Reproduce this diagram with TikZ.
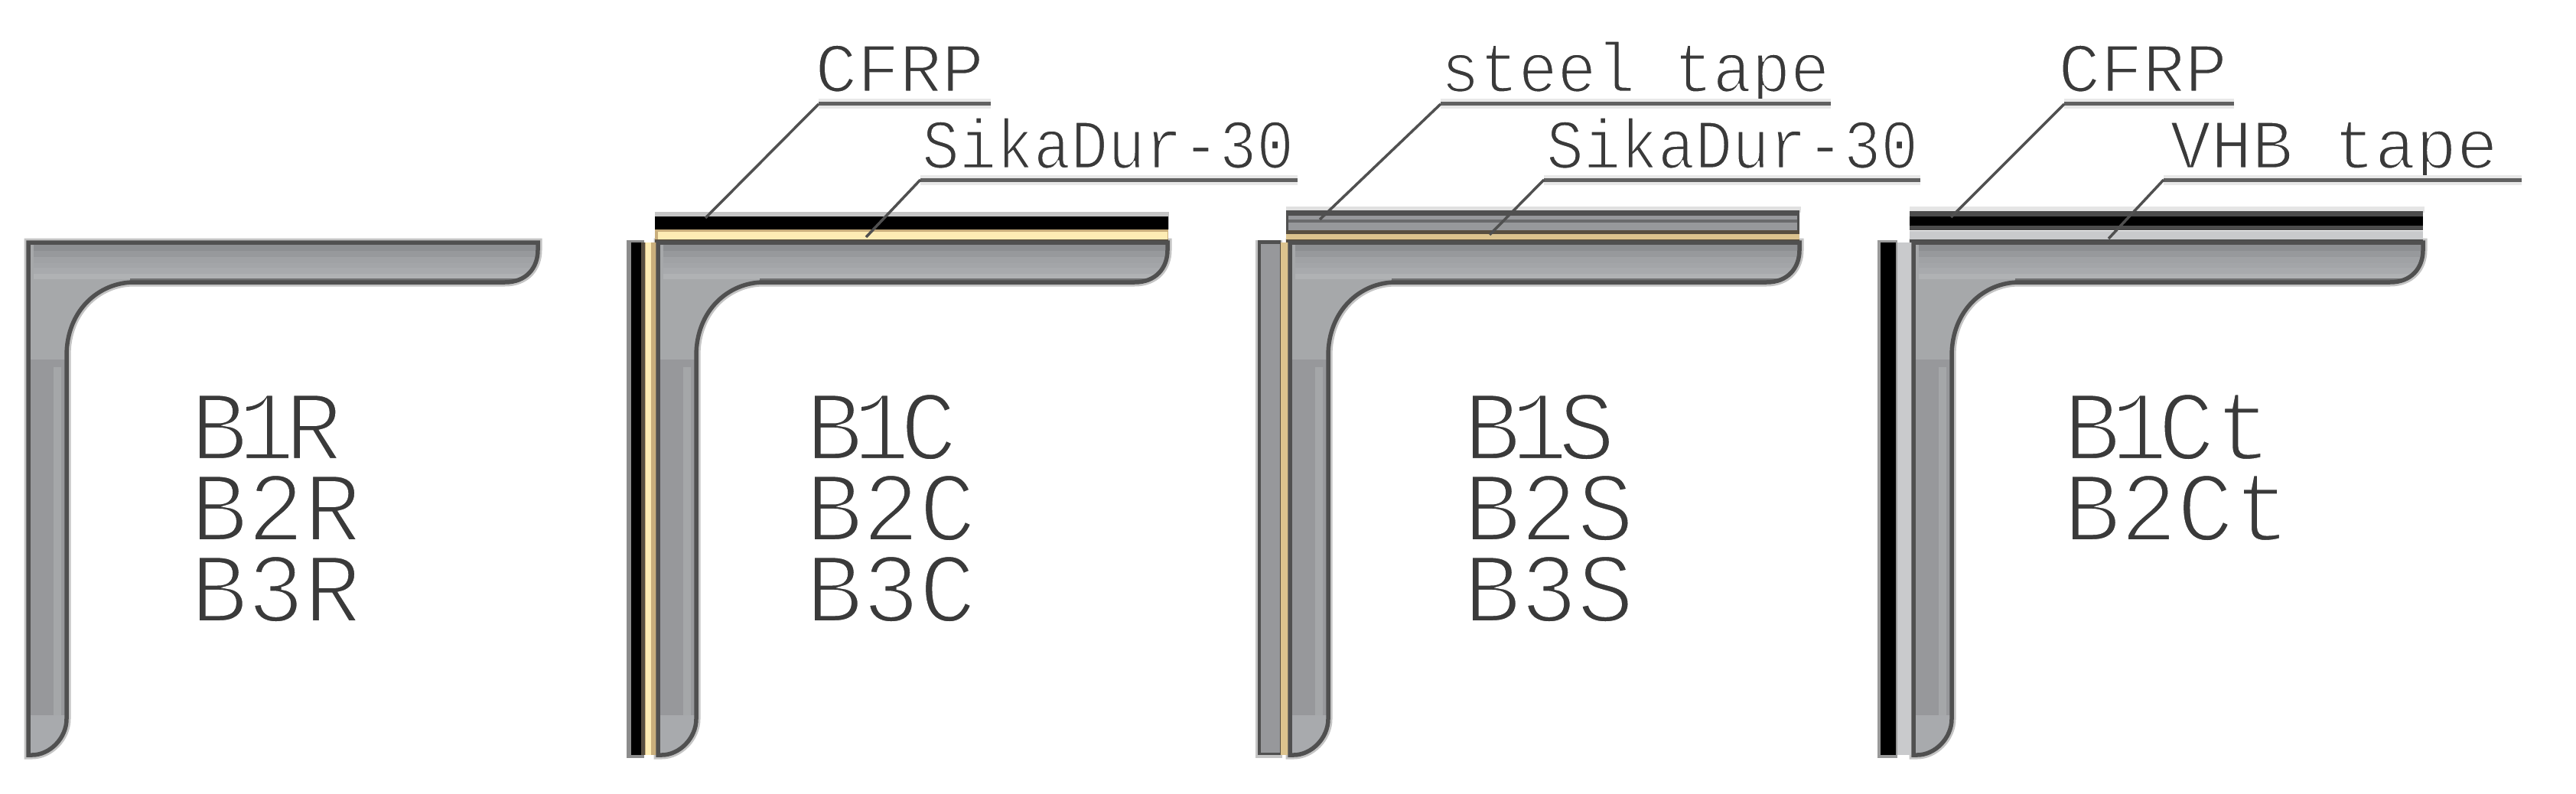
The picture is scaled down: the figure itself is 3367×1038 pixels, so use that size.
\documentclass[tikz,border=0pt]{standalone}
\usepackage{fontspec}
\setmainfont{Liberation Mono}
\definecolor{inkd}{HTML}{505050}
\definecolor{halo}{HTML}{C4C4C4}
\definecolor{band}{HTML}{707172}
\definecolor{cream}{HTML}{FDECB4}
\definecolor{tan1}{HTML}{C9AE7C}
\definecolor{tan2}{HTML}{DCC38E}
\definecolor{brownd}{HTML}{574E40}
\definecolor{webg}{HTML}{97989B}
\definecolor{filg}{HTML}{A6A8AA}
\definecolor{lightv}{HTML}{C9CACC}
\definecolor{txt}{HTML}{3A3A3A}
\definecolor{A9AA}{HTML}{A8AAAD}
\def\profpath{(37,317) -- (703,317) -- (703,327) .. controls (703,350) and (688,369) .. (660,369) -- (175,369) .. controls (130,369) and (87,405) .. (87,465) -- (87,940) .. controls (87,965) and (65,987) .. (42,987) -- (37,987) -- cycle}
\newcommand{\thinbig}[1]{\scalebox{.95}[1]{\special{pdf:code q 2 Tr 1 1 1 RG 4 w}#1\special{pdf:code Q}}}
\newcommand{\thinsm}[2]{\scalebox{#1}[1]{\special{pdf:code q 2 Tr 1 1 1 RG 2.5 w}#2\special{pdf:code Q}}}
\tikzset{
  big/.style={inner sep=0pt,anchor=base west,text=txt,font=\fontsize{130}{130}\selectfont},
  small/.style={inner sep=0pt,anchor=base west,text=txt,font=\fontsize{92}{92}\selectfont},
  uhalo/.style={draw=black!9,line width=13pt},
  uline/.style={draw=black!62,line width=5pt},
  leader/.style={draw=inkd,line width=3.5pt},
}
\newcommand{\profhalo}{\draw[halo,line width=11pt] \profpath;}
\newcommand{\proftile}{%
  \begin{scope}
    \clip \profpath;
    \fill[filg] (30,310) rectangle (720,480);
    \fill[webg] (30,470) rectangle (100,935);
    \fill[A9AA] (30,935) rectangle (100,995);
    \fill[white!14!webg] (70,480) rectangle (80,935);
    \foreach \ya/\yb/\cc in {320/328/8D8F92,328/336/97999C,336/344/A0A2A5,344/350/A3A5A8,350/358/A8AAAD,358/365/B0B2B4}{
      \definecolor{bb}{HTML}{\cc}
      \fill[bb] (44,\ya) rectangle (720,\yb);
    }
    \fill[band] (170,364) rectangle (720,372);
  \end{scope}
  \draw[inkd,line width=5.5pt] \profpath;
}
\newcommand{\vkern}{\kern-.1em }
\begin{document}
\begin{tikzpicture}[x=1pt,y=-1pt]
\useasboundingbox (0,0) rectangle (3367,1038);
\fill[white] (0,0) rectangle (3367,1038);

% column 1
\profhalo
\proftile
\node[big] (t1a) at (249,601) {\thinbig{B\vkern 1\vkern R}};
\node[big] (t1b) at (249,707) {\thinbig{B2R}};
\node[big] (t1c) at (249,813) {\thinbig{B3R}};

% column 2
\begin{scope}[shift={(823,0)}]
  \profhalo
  \fill[black!45] (-4,314) rectangle (19,991);
  \fill[black] (2,317) rectangle (15,987);
  \fill[brownd] (15,317) rectangle (20,987);
  \fill[tan1] (20,317) rectangle (37,987);
  \fill[cream] (21,317) rectangle (28,987);
  \fill[halo] (33,277) rectangle (705,300);
  \fill[black] (33,283) rectangle (704,300);
  \fill[tan1] (33,300) rectangle (704,317);
  \fill[cream] (37,303) rectangle (703,313);
  \fill[brownd] (33,313) rectangle (704,317);
  \proftile
\end{scope}
\node[big] (t2a) at (1053,601) {\thinbig{B\vkern 1\vkern C}};
\node[big] (t2b) at (1053,707) {\thinbig{B2C}};
\node[big] (t2c) at (1053,813) {\thinbig{B3C}};

% column 3
\begin{scope}[shift={(1649,0)}]
  \profhalo
  \fill[halo] (-8,314) rectangle (27,991);
  \fill[inkd] (-5,314) rectangle (25,987);
  \fill[webg] (-1,319) rectangle (24,984);
  \fill[brownd] (24,317) rectangle (26,987);
  \fill[tan2] (25,317) rectangle (37,987);
  \fill[black!12] (32,270) rectangle (705,278);
  \fill[inkd] (32,275) rectangle (703,306);
  \fill[webg] (35,282) rectangle (700,301);
  \fill[black!30!webg] (35,287) rectangle (700,291);
  \fill[brownd] (32,301) rectangle (703,317);
  \fill[tan2] (32,306) rectangle (703,313);
  \proftile
\end{scope}
\node[big] (t3a) at (1913,601) {\thinbig{B\vkern 1\vkern S}};
\node[big] (t3b) at (1913,707) {\thinbig{B2S}};
\node[big] (t3c) at (1913,813) {\thinbig{B3S}};

% column 4
\begin{scope}[shift={(2464,0)}]
  \profhalo
  \fill[black!40] (-10,314) rectangle (16,991);
  \fill[black] (-6,317) rectangle (14,987);
  \fill[lightv] (16,317) rectangle (37,987);
  \fill[black!10] (32,270) rectangle (705,278);
  \fill[black!70] (32,276) rectangle (703,301);
  \fill[black] (32,283) rectangle (703,295);
  \fill[lightv] (32,302) rectangle (703,317);
  \fill[black!70] (32,313) rectangle (703,317);
  \proftile
\end{scope}
\node[big] (t4a) at (2697,601) {\thinbig{B\vkern 1\vkern Ct}};
\node[big] (t4b) at (2697,707) {\thinbig{B2Ct}};

% leader labels
\node[small] (l2a) at (1065,120) {\thinsm{1.0}{CFRP}};
\node[small] (l2b) at (1205,220) {\thinsm{.88}{SikaDur-30}};
\node[small] (l3a) at (1883,120) {\thinsm{.92}{steel tape}};
\node[small] (l3b) at (2021,220) {\thinsm{.88}{SikaDur-30}};
\node[small] (l4a) at (2690,120) {\thinsm{1.0}{CFRP}};
\node[small] (l4b) at (2836,220) {\thinsm{.97}{VHB tape}};

\coordinate (a2s) at (1295,136); \coordinate (a2k) at (1070,136); \coordinate (a2e) at (922,285);
\coordinate (b2s) at (1696,235); \coordinate (b2k) at (1203,235); \coordinate (b2e) at (1132,310);
\coordinate (a3s) at (2393,136); \coordinate (a3k) at (1883,136); \coordinate (a3e) at (1725,287);
\coordinate (b3s) at (2510,235); \coordinate (b3k) at (2018,235); \coordinate (b3e) at (1947,307);
\coordinate (a4s) at (2920,136); \coordinate (a4k) at (2698,136); \coordinate (a4e) at (2550,284);
\coordinate (b4s) at (3296,235); \coordinate (b4k) at (2828,235); \coordinate (b4e) at (2756,312);

\foreach \n in {a2,b2,a3,b3,a4,b4}{
  \draw[uhalo] (\n s) -- (\n k);
  \draw[uline] (\n s) -- (\n k);
  \draw[leader] (\n k) -- (\n e);
}
\end{tikzpicture}
\end{document}
